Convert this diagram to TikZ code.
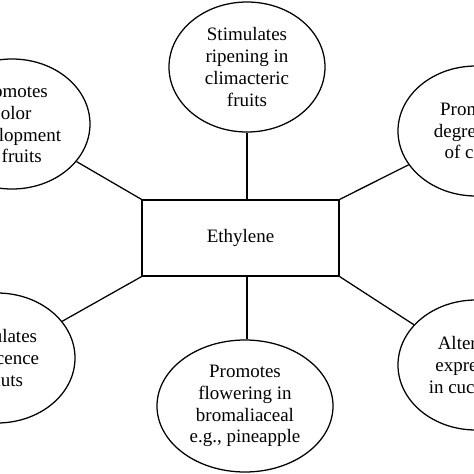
\documentclass[tikz,border=0pt]{standalone}
\usepackage{fontspec}
\setmainfont{Liberation Serif}
\usepackage{tikz}
\usetikzlibrary{shapes.geometric}

\begin{document}
\begin{tikzpicture}[line width=0.9pt,
  every node/.style={font=\fontsize{13.5}{15.5}\selectfont, align=center},
  effect/.style={draw, ellipse, inner sep=0pt, minimum width=3.9cm, minimum height=3.25cm}]
  \path[use as bounding box, clip] (-5.925,-5.925) rectangle (5.925,5.925);

  % centre box
  \node[draw, rectangle, minimum width=4.925cm, minimum height=1.9cm] (eth) at (0.09,-0.025) {Ethylene};

  % effects, clockwise from the top
  \node[effect] (ripen) at (0.25,4.25) {Stimulates\\ripening in\\climacteric\\fruits};
  \node[effect] (citrus) at (5.975,2.65) {Promotes\\degreening\\of citrus};
  \node[effect] (sex) at (5.975,-3.2) {Alters sex\\expression\\in cucumber};
  \node[effect, minimum width=4.4cm, minimum height=3.3cm] (flower) at (0.2,-4.225) {Promotes\\flowering in\\bromaliaceal\\e.g., pineapple};
  \node[effect] (senes) at (-6.0,-3.025) {Stimulates\\senescence\\of nuts};
  \node[effect] (color) at (-5.625,2.825) {Promotes\\color\\development\\in fruits};

  \draw (ripen.south) -- (ripen.south |- eth.north);
  \draw (eth.north east) -- (citrus);
  \draw (eth.south east) -- (sex);
  \draw (flower.north -| ripen.south) -- (eth.south -| ripen.south);
  \draw (eth.south west) -- (senes);
  \draw (eth.north west) -- (color);
\end{tikzpicture}
\end{document}
